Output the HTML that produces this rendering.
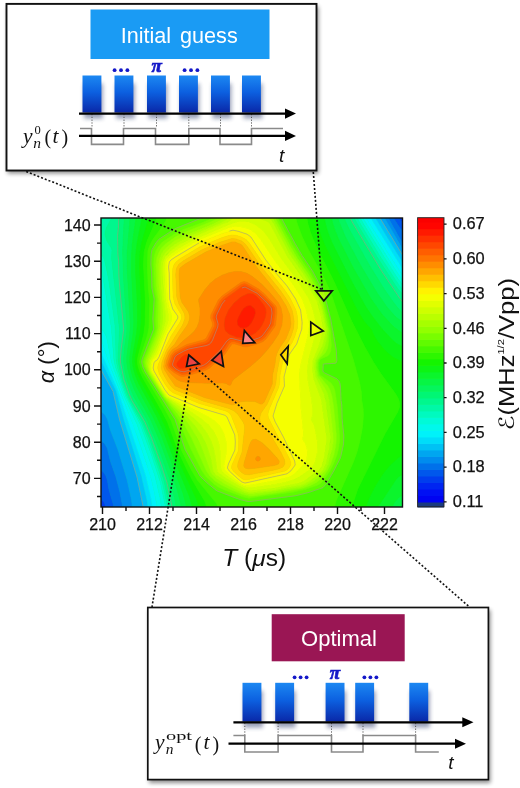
<!DOCTYPE html>
<html><head><meta charset="utf-8"><title>Figure</title>
<style>
html,body{margin:0;padding:0;background:#fff;}
body{width:520px;height:788px;overflow:hidden;position:relative;}
svg{position:absolute;left:0;top:0;display:block;}
text{font-family:"Liberation Sans",sans-serif;fill:#111;}
.ser,.ser text{font-family:"Liberation Serif","DejaVu Serif",serif;}
.it{font-style:italic;}
.tk{font-size:16px;stroke:#111;stroke-width:0.25px;}
.dot{fill:none;stroke:#111;stroke-width:1.6;stroke-dasharray:2 2;}
.ax{stroke:#000;stroke-width:2.2;fill:none;}
.wv{stroke:#8a8a8a;stroke-width:1.6;fill:none;}
.vd{stroke:#555;stroke-width:1;stroke-dasharray:1.2 1.6;fill:none;}
.tri{fill:none;stroke:#111;stroke-width:1.7;stroke-linejoin:miter;}
</style></head><body>
<svg width="520" height="788" viewBox="0 0 520 788">
<defs>
<linearGradient id="bar" x1="0" y1="0" x2="0" y2="1">
<stop offset="0" stop-color="#1c88f2"/><stop offset="0.45" stop-color="#0c60e0"/><stop offset="1" stop-color="#0a28a8"/>
</linearGradient>
<filter id="sh" x="-10%" y="-20%" width="120%" height="150%"><feGaussianBlur stdDeviation="2.2"/></filter>
<filter id="sh2" x="-50%" y="-30%" width="200%" height="170%"><feGaussianBlur stdDeviation="2"/></filter>
<clipPath id="pc"><rect x="101" y="218" width="301.5" height="289"/></clipPath>
</defs>

<!-- ================= heat map ================= -->
<g clip-path="url(#pc)">
<rect x="95" y="212" width="315" height="300" fill="#40f000"/>
<path fill="#0010f4" stroke="#0010f4" stroke-width="0.6" fill-rule="evenodd" d="M408.4,210.0 411.0,210.0 411.0,212.6 409.0,211.4Z"/>
<path fill="#0025f1" stroke="#0025f1" stroke-width="0.6" fill-rule="evenodd" d="M403.9,210.0 408.4,210.0 409.0,211.4 411.0,212.6 411.0,217.1 407.0,216.4 405.0,215.3ZM100.2,506.0 101.0,508.0 99.4,511.0 99.0,515.0 92.3,515.0 92.0,506.8 95.0,506.7 99.0,505.6Z"/>
<path fill="#003dee" stroke="#003dee" stroke-width="0.6" fill-rule="evenodd" d="M397.8,210.0 403.9,210.0 405.0,215.3 407.0,216.4 411.0,217.1 411.0,224.1 404.0,222.9 400.0,220.6 398.3,217.0ZM99.0,477.8 100.0,477.8 101.1,479.0 101.0,480.0 100.0,480.9 98.8,481.0 97.7,480.0 97.7,479.0ZM92.0,493.3 95.0,494.1 98.0,495.9 104.0,501.8 106.2,507.0 106.7,515.0 99.0,515.0 99.4,511.0 101.0,508.0 101.0,507.0 100.0,505.8 92.0,506.8Z"/>
<path fill="#0057ec" stroke="#0057ec" stroke-width="0.6" fill-rule="evenodd" d="M390.8,210.0 397.8,210.0 398.3,217.0 400.0,220.6 404.0,222.9 411.0,224.1 411.0,235.3 406.0,233.7 403.0,231.5 400.0,228.3 393.4,218.0 391.7,214.0ZM97.2,450.0 98.0,448.9 100.0,448.4 101.0,449.0 101.4,451.0 100.0,452.5 99.0,452.7 97.5,452.0ZM92.0,464.9 96.0,466.2 100.0,468.9 104.0,472.7 106.1,476.0 107.4,480.0 109.1,490.0 113.2,504.0 114.4,515.0 106.7,515.0 106.2,507.0 104.0,501.8 98.0,495.9 95.0,494.1 92.0,493.3ZM99.0,477.8 97.7,479.0 97.7,480.0 98.8,481.0 100.0,480.9 101.0,480.0 101.1,479.0 100.0,477.8Z"/>
<path fill="#0071ea" stroke="#0071ea" stroke-width="0.6" fill-rule="evenodd" d="M384.7,210.0 390.8,210.0 391.7,214.0 393.4,218.0 400.0,228.3 403.0,231.5 406.0,233.7 411.0,235.3 411.0,255.5 409.0,254.0 406.0,249.5 386.5,215.0ZM92.0,436.8 96.0,437.7 101.0,440.4 104.9,444.0 107.3,448.0 110.4,461.0 116.0,477.0 119.9,492.0 122.4,505.0 123.2,515.0 114.4,515.0 113.2,504.0 109.1,490.0 107.4,480.0 106.1,476.0 104.0,472.7 100.0,468.9 96.0,466.2 92.0,464.9ZM99.0,448.4 97.9,449.0 97.1,451.0 97.5,452.0 99.0,452.7 101.0,451.7 101.5,450.0 101.0,449.0Z"/>
<path fill="#008cee" stroke="#008cee" stroke-width="0.6" fill-rule="evenodd" d="M381.3,210.0 384.7,210.0 386.5,215.0 406.0,249.5 409.0,254.0 411.0,255.5 411.0,258.5 408.0,256.9 403.7,251.0 383.3,216.0ZM92.0,409.1 97.0,409.9 102.0,412.1 105.2,415.0 107.4,419.0 110.4,430.0 118.1,450.0 127.2,480.0 131.6,500.0 133.2,515.0 123.2,515.0 122.4,505.0 119.9,492.0 116.0,477.0 110.4,461.0 107.3,448.0 104.9,444.0 101.0,440.4 96.0,437.7 92.0,436.8Z"/>
<path fill="#00a6f0" stroke="#00a6f0" stroke-width="0.6" fill-rule="evenodd" d="M376.2,210.0 381.3,210.0 383.3,216.0 403.7,251.0 408.0,256.9 411.0,258.5 411.0,267.1 407.0,262.3 378.1,215.0ZM92.0,356.9 100.0,368.1 113.0,391.4 119.7,420.0 137.0,477.0 144.9,515.0 133.2,515.0 131.6,500.0 127.2,480.0 118.1,450.0 110.4,430.0 107.4,419.0 105.2,415.0 102.0,412.1 97.0,409.9 92.0,409.1Z"/>
<path fill="#00c2f4" stroke="#00c2f4" stroke-width="0.6" fill-rule="evenodd" d="M372.2,210.0 376.2,210.0 378.1,215.0 407.0,262.3 411.0,267.1 411.0,272.7 408.2,271.0 404.6,266.0 375.2,218.0 373.0,213.5ZM92.0,349.6 94.0,350.3 96.0,351.8 98.9,356.0 116.3,391.0 123.8,419.0 141.6,476.0 147.0,500.0 149.4,515.0 144.9,515.0 137.0,477.0 119.7,420.0 113.0,391.4 100.0,368.1 92.0,356.9Z"/>
<path fill="#00ddf9" stroke="#00ddf9" stroke-width="0.6" fill-rule="evenodd" d="M367.8,210.0 372.2,210.0 373.0,213.5 375.2,218.0 404.6,266.0 408.2,271.0 411.0,272.7 411.0,276.5 409.0,275.9 406.0,273.4 400.7,266.0 373.0,222.1 369.1,215.0ZM92.0,344.9 95.0,345.6 97.0,346.8 101.0,352.0 117.8,390.0 145.7,475.0 151.3,499.0 153.3,515.0 149.4,515.0 147.0,500.0 141.6,476.0 123.8,419.0 116.3,391.0 98.9,356.0 96.0,351.8 94.0,350.3 92.0,349.6Z"/>
<path fill="#00f2fa" stroke="#00f2fa" stroke-width="0.6" fill-rule="evenodd" d="M362.2,210.0 367.8,210.0 369.1,215.0 373.0,222.1 400.7,266.0 406.0,273.4 409.0,275.9 411.0,276.5 411.0,286.3 409.3,285.0 406.0,280.7 388.0,253.0 365.0,216.3ZM92.0,336.8 99.0,337.4 101.0,338.5 102.0,340.0 103.1,345.0 110.0,366.0 133.7,426.0 148.3,469.0 151.8,481.0 154.5,493.0 156.9,506.0 157.7,515.0 153.3,515.0 151.3,499.0 145.7,475.0 117.8,390.0 101.0,352.0 97.0,346.8 95.0,345.6 92.0,344.9Z"/>
<path fill="#00f8eb" stroke="#00f8eb" stroke-width="0.6" fill-rule="evenodd" d="M359.9,210.0 362.2,210.0 365.0,216.3 388.0,253.0 406.0,280.7 409.3,285.0 411.0,286.3 411.0,288.7 408.0,287.3 405.0,284.0 394.2,268.0 365.9,223.0 361.4,215.0ZM92.0,324.4 97.0,325.7 101.0,328.3 104.0,331.8 106.6,337.0 111.5,362.0 113.8,369.0 124.3,397.0 136.9,424.0 155.0,476.0 160.1,498.0 162.6,515.0 157.7,515.0 156.3,502.0 151.8,481.0 146.7,464.0 137.6,437.0 119.4,389.0 110.4,367.0 103.1,345.0 102.0,340.0 101.0,338.5 99.0,337.4 92.0,336.8Z"/>
<path fill="#00fad7" stroke="#00fad7" stroke-width="0.6" fill-rule="evenodd" d="M357.7,210.0 359.9,210.0 361.0,214.0 363.5,219.0 385.0,253.6 403.5,282.0 407.7,287.0 411.0,288.7 411.0,290.9 407.8,290.0 404.1,287.0 396.0,276.0 363.0,223.3 359.0,215.5ZM92.0,260.0 94.9,261.0 97.2,263.0 101.0,270.9 102.9,277.0 111.3,327.0 114.0,361.0 115.8,368.0 125.6,396.0 140.0,423.8 151.0,453.5 160.3,482.0 165.3,506.0 166.5,515.0 162.6,515.0 160.1,498.0 155.0,476.0 136.9,424.0 124.3,397.0 113.8,369.0 111.5,362.0 106.6,337.0 104.0,331.8 101.0,328.3 97.0,325.7 92.0,324.4Z"/>
<path fill="#00fabf" stroke="#00fabf" stroke-width="0.6" fill-rule="evenodd" d="M96.3,210.0 95.0,213.3 92.0,214.7 92.0,210.0ZM355.0,210.0 357.7,210.0 359.2,216.0 363.4,224.0 397.4,278.0 405.0,287.9 408.0,290.1 411.0,290.9 411.0,294.0 408.0,293.4 404.0,290.9 400.0,286.7 395.2,280.0 379.2,255.0 360.4,224.0 356.3,216.0ZM92.0,250.9 96.0,251.6 100.0,253.6 103.0,256.6 104.6,260.0 108.8,280.0 114.9,324.0 115.7,335.0 116.1,360.0 117.7,368.0 121.7,382.0 126.5,395.0 129.2,401.0 141.9,424.0 147.8,439.0 158.0,468.0 163.1,485.0 167.4,506.0 168.6,515.0 166.5,515.0 165.3,506.0 160.3,482.0 151.0,453.5 140.0,423.8 125.6,396.0 120.7,383.0 114.4,363.0 111.3,327.0 103.1,278.0 101.0,270.9 97.2,263.0 94.9,261.0 92.0,260.0Z"/>
<path fill="#00f8a6" stroke="#00f8a6" stroke-width="0.6" fill-rule="evenodd" d="M96.3,210.0 109.9,210.0 111.4,217.0 111.0,219.7 106.4,228.0 105.3,232.0 105.2,235.0 106.9,241.0 111.4,248.0 112.0,250.0 111.7,259.0 119.5,329.0 118.2,361.0 121.0,375.1 123.0,382.1 129.0,397.8 142.7,422.0 149.7,439.0 163.9,480.0 169.5,507.0 170.6,515.0 168.6,515.0 167.4,506.0 161.6,479.0 148.0,439.6 141.0,422.0 129.2,401.0 126.9,396.0 121.7,382.0 117.7,368.0 116.0,359.0 115.1,326.0 110.0,287.9 107.0,270.4 104.6,260.0 102.5,256.0 98.0,252.4 92.0,250.9 92.0,214.7 95.0,213.3ZM351.5,210.0 355.0,210.0 356.0,215.0 358.7,221.0 381.0,257.9 400.3,287.0 406.0,292.4 411.0,294.0 411.0,298.7 407.0,297.6 403.0,294.8 399.0,290.4 393.7,283.0 377.7,258.0 358.4,226.0 353.6,217.0Z"/>
<path fill="#00f78d" stroke="#00f78d" stroke-width="0.6" fill-rule="evenodd" d="M109.9,210.0 118.8,210.0 118.5,227.0 117.6,235.0 117.9,255.0 118.6,261.0 118.9,276.0 120.0,291.0 123.7,329.0 121.3,348.0 120.4,361.0 122.8,375.0 125.0,383.0 131.0,398.6 143.4,419.0 151.6,438.0 166.1,479.0 170.3,498.0 173.2,515.0 170.6,515.0 169.5,507.0 163.6,479.0 149.7,439.0 141.7,420.0 130.0,400.1 123.0,382.0 118.6,364.0 118.1,357.0 119.5,329.0 111.7,259.0 112.0,250.0 111.4,248.0 106.9,241.0 105.2,235.0 105.3,232.0 106.4,228.0 111.5,218.0ZM346.2,210.0 351.5,210.0 353.6,217.0 358.4,226.0 378.3,259.0 397.0,287.8 404.0,295.6 407.0,297.6 411.0,298.7 411.0,311.5 406.0,306.6 400.0,298.7 381.6,271.0 353.4,224.0 347.3,213.0Z"/>
<path fill="#01f674" stroke="#01f674" stroke-width="0.6" fill-rule="evenodd" d="M118.8,210.0 124.6,210.0 122.7,252.0 123.4,276.0 127.0,327.0 126.8,333.0 124.4,349.0 123.6,359.0 123.9,364.0 125.4,373.0 127.8,382.0 133.4,396.0 146.8,419.0 156.9,443.0 170.4,481.0 175.5,502.0 177.2,515.0 173.2,515.0 170.3,498.0 166.1,479.0 151.6,438.0 143.4,419.0 131.0,398.6 125.0,383.0 122.8,375.0 120.4,361.0 121.3,348.0 123.7,329.0 120.0,291.0 118.9,276.0 118.6,261.0 117.9,255.0 117.6,235.0 118.5,227.0ZM341.6,210.0 346.2,210.0 347.3,213.0 353.4,224.0 381.6,271.0 400.0,298.7 406.0,306.6 411.0,311.5 411.0,318.2 406.0,316.2 400.3,311.0 392.3,301.0 382.8,287.0 367.4,262.0 352.1,235.0 344.0,218.4 342.4,214.0ZM411.0,512.5 411.0,515.0 408.5,515.0 409.0,513.8Z"/>
<path fill="#05f55c" stroke="#05f55c" stroke-width="0.6" fill-rule="evenodd" d="M124.6,210.0 130.3,210.0 129.9,221.0 127.2,253.0 127.5,274.0 130.3,325.0 129.9,333.0 126.8,357.0 126.9,363.0 127.7,369.0 130.2,379.0 134.5,390.0 139.0,399.0 150.4,419.0 159.8,441.0 172.4,475.0 177.0,489.0 180.8,504.0 182.0,515.0 177.2,515.0 175.5,502.0 170.4,481.0 156.9,443.0 146.8,419.0 133.4,396.0 127.8,382.0 125.2,372.0 123.9,364.0 123.6,359.0 124.4,349.0 126.8,333.0 127.0,327.0 123.4,276.0 122.7,252.0ZM336.6,210.0 341.6,210.0 343.1,216.0 348.5,228.0 370.0,266.4 385.4,291.0 396.1,306.0 404.4,315.0 408.0,317.4 411.0,318.2 411.0,324.5 407.0,323.9 404.0,322.8 400.0,320.5 396.0,317.3 387.6,308.0 377.7,294.0 361.0,266.2 345.8,238.0 339.0,222.0 337.3,216.0ZM401.0,505.5 403.0,504.7 411.0,504.7 411.0,512.5 409.0,513.8 408.5,515.0 400.6,515.0 399.9,508.0Z"/>
<path fill="#07f544" stroke="#07f544" stroke-width="0.6" fill-rule="evenodd" d="M130.3,210.0 136.2,210.0 135.6,221.0 132.5,243.0 131.6,255.0 131.6,273.0 133.9,322.0 133.2,333.0 129.9,356.0 129.8,362.0 130.5,368.0 132.8,377.0 137.0,387.3 153.7,418.0 161.6,436.0 183.0,493.0 186.2,505.0 187.2,515.0 182.0,515.0 180.8,504.0 177.0,489.0 172.4,475.0 159.8,441.0 150.4,419.0 139.0,399.0 134.5,390.0 130.2,379.0 127.7,369.0 126.9,363.0 126.8,357.0 129.9,333.0 130.3,325.0 127.5,274.0 127.2,253.0 129.9,221.0ZM330.6,210.0 336.6,210.0 337.1,215.0 338.7,221.0 345.3,237.0 360.3,265.0 377.1,293.0 387.0,307.2 395.7,317.0 403.0,322.3 407.0,323.9 411.0,324.5 411.0,334.7 406.0,334.3 403.0,333.4 398.0,330.3 393.0,326.3 382.4,315.0 372.0,300.5 355.0,271.3 338.9,240.0 335.1,231.0 332.5,223.0 331.0,216.0ZM411.0,492.5 411.0,504.7 403.0,504.7 401.0,505.5 399.9,508.0 400.6,515.0 390.8,515.0 392.1,507.0 393.9,503.0 396.1,500.0 399.0,497.2 403.0,494.6 407.0,493.1Z"/>
<path fill="#0bf52c" stroke="#0bf52c" stroke-width="0.6" fill-rule="evenodd" d="M136.2,210.0 142.5,210.0 141.6,221.0 137.2,243.0 135.8,255.0 135.6,271.0 137.4,305.0 137.6,321.0 136.7,333.0 132.7,356.0 132.5,362.0 133.1,367.0 135.2,375.0 139.0,384.0 156.5,416.0 163.4,431.0 173.0,456.4 189.3,496.0 192.2,506.0 193.1,515.0 187.2,515.0 186.2,505.0 183.0,493.0 161.6,436.0 153.7,418.0 137.0,387.3 132.8,377.0 130.5,368.0 129.8,362.0 129.9,356.0 133.2,333.0 133.9,322.0 131.6,273.0 131.6,255.0 132.5,243.0 135.6,221.0ZM323.5,210.0 330.6,210.0 331.0,216.0 332.5,223.0 335.1,231.0 338.9,240.0 354.0,269.5 371.0,299.0 382.0,314.5 393.0,326.3 398.0,330.3 403.0,333.4 406.0,334.3 411.0,334.7 411.0,347.4 405.0,347.0 401.0,346.1 397.0,344.0 393.2,341.0 382.0,329.0 372.0,316.1 366.4,308.0 353.0,284.2 338.3,256.0 331.6,242.0 328.0,233.0 325.6,225.0 324.0,217.0ZM411.0,474.0 411.0,492.5 407.0,493.1 403.0,494.6 399.0,497.2 396.1,500.0 393.9,503.0 392.1,507.0 390.8,515.0 377.8,515.0 377.0,507.0 380.0,503.5 396.2,479.0 399.0,476.2 402.0,474.7Z"/>
<path fill="#0df414" stroke="#0df414" stroke-width="0.6" fill-rule="evenodd" d="M142.5,210.0 149.5,210.0 148.1,221.0 141.8,243.0 140.0,254.0 139.6,268.0 141.4,304.0 141.3,322.0 140.1,334.0 135.4,356.0 135.0,361.0 135.5,366.0 137.5,373.0 141.0,381.1 158.8,413.0 165.2,426.0 177.4,458.0 196.5,499.0 199.0,507.0 199.9,515.0 193.1,515.0 192.2,506.0 189.3,496.0 173.0,456.4 163.4,431.0 156.5,416.0 139.0,384.0 135.2,375.0 133.1,367.0 132.5,362.0 132.7,356.0 136.7,333.0 137.6,321.0 137.4,305.0 135.6,271.0 135.8,255.0 137.2,243.0 141.6,221.0ZM315.5,210.0 323.5,210.0 324.0,217.0 325.6,225.0 328.0,233.0 331.6,242.0 352.0,282.3 365.8,307.0 371.9,316.0 382.0,329.0 393.2,341.0 397.0,344.0 401.0,346.1 405.0,347.0 411.0,347.4 411.0,363.4 405.0,362.7 399.0,360.7 393.0,357.4 387.0,352.7 378.4,343.0 374.0,336.0 371.0,329.1 366.0,324.1 361.0,317.0 352.8,302.0 323.2,242.0 319.7,233.0 317.4,225.0 315.9,217.0ZM411.0,451.5 411.0,474.0 402.0,474.7 399.0,476.2 396.2,479.0 380.0,503.5 377.0,507.0 377.8,515.0 365.3,515.0 366.1,506.0 368.4,499.0 375.0,486.1 383.0,473.5 390.0,465.0 398.0,457.7 405.0,453.1Z"/>
<path fill="#14f400" stroke="#14f400" stroke-width="0.6" fill-rule="evenodd" d="M149.5,210.0 157.7,210.0 157.6,212.0 155.7,221.0 147.0,241.1 144.1,252.0 143.5,265.0 145.5,302.0 145.1,324.0 143.8,334.0 137.9,357.0 137.4,361.0 137.8,365.0 139.5,371.0 142.8,378.0 161.2,410.0 167.5,422.0 178.6,452.0 186.0,467.8 192.0,479.4 204.7,501.0 207.3,508.0 208.3,515.0 199.9,515.0 199.0,507.0 196.5,499.0 177.4,458.0 165.2,426.0 158.8,413.0 141.0,381.1 137.5,373.0 135.5,366.0 135.0,361.0 135.4,356.0 140.1,334.0 141.3,322.0 141.4,304.0 139.6,268.0 140.0,254.0 141.8,243.0 148.3,220.0ZM306.2,210.0 315.5,210.0 316.2,219.0 318.2,228.0 321.2,237.0 325.9,248.0 357.0,310.0 364.4,322.0 371.0,329.1 373.5,335.0 377.0,341.0 385.0,350.7 393.0,357.4 402.0,361.9 411.0,363.4 411.0,451.5 405.0,453.1 398.0,457.7 390.0,465.0 383.0,473.5 375.0,486.1 368.4,499.0 366.1,506.0 365.3,515.0 351.4,515.0 352.0,507.0 353.8,500.0 357.8,489.0 364.0,475.8 385.4,433.0 397.7,412.0 399.5,407.0 399.4,402.0 398.0,398.0 395.7,394.0 381.0,373.8 374.0,362.9 365.0,347.3 352.0,321.8 334.3,282.0 318.0,250.0 313.0,239.0 310.0,231.0 307.7,223.0 306.5,216.0Z"/>
<path fill="#2df600" stroke="#2df600" stroke-width="0.6" fill-rule="evenodd" d="M157.7,210.0 168.8,210.0 167.8,216.0 165.7,221.0 162.7,226.0 153.0,239.1 149.5,246.0 147.9,251.0 147.4,267.0 148.3,288.0 149.8,301.0 149.1,327.0 147.6,335.0 140.0,358.3 139.5,361.0 139.8,364.0 143.0,372.7 163.6,407.0 171.3,421.0 181.8,451.0 191.4,470.0 197.4,480.0 216.2,503.0 219.3,509.0 220.5,515.0 208.3,515.0 207.3,508.0 204.7,501.0 192.0,479.4 186.0,467.8 178.6,452.0 167.5,422.0 161.2,410.0 142.8,378.0 139.5,371.0 137.8,365.0 137.4,361.0 137.9,357.0 143.8,334.0 145.1,324.0 145.5,302.0 143.5,265.0 144.1,252.0 147.0,241.1 155.7,221.0 157.2,215.0ZM294.9,210.0 306.2,210.0 306.5,216.0 307.7,223.0 310.0,231.0 313.0,239.0 318.0,250.0 334.3,282.0 352.0,321.8 365.0,347.3 374.0,362.9 381.0,373.8 395.7,394.0 398.0,398.0 399.4,402.0 399.5,407.0 397.7,412.0 385.0,433.8 357.8,489.0 352.4,505.0 351.4,515.0 333.4,515.0 334.4,507.0 336.4,500.0 353.8,461.0 357.6,450.0 360.3,439.0 362.6,426.0 363.4,414.0 363.0,407.0 361.7,400.0 361.5,394.0 360.6,387.0 352.4,357.0 331.5,295.0 323.6,277.0 308.0,249.0 301.8,236.0 296.7,222.0 295.4,216.0Z"/>
<path fill="#46f800" stroke="#46f800" stroke-width="0.6" fill-rule="evenodd" d="M168.8,210.0 217.0,210.0 201.6,218.0 175.0,228.7 159.0,239.2 156.0,242.8 152.0,249.6 151.1,254.0 150.8,265.0 151.6,272.0 151.9,288.0 154.2,299.0 152.8,319.0 153.7,329.0 142.2,359.0 141.7,362.0 142.2,365.0 143.7,369.0 146.5,374.0 175.0,419.4 185.0,449.2 200.0,476.2 208.3,484.0 217.0,490.9 240.0,499.6 249.0,501.7 296.0,495.7 309.0,492.4 323.0,487.6 326.2,484.0 334.3,470.0 340.4,458.0 343.6,444.0 343.8,435.0 342.1,419.0 341.8,405.0 341.0,400.4 340.5,387.0 339.9,383.0 339.0,380.9 337.0,378.9 324.8,373.0 323.4,372.0 322.9,371.0 323.3,364.0 335.0,363.3 336.0,362.9 336.9,361.0 336.3,350.0 330.7,319.0 326.6,303.0 323.5,293.0 320.5,286.0 312.5,271.0 302.0,255.4 295.0,243.3 284.0,223.0 278.6,210.0 294.9,210.0 295.4,216.0 296.7,222.0 301.8,236.0 308.0,249.0 324.1,278.0 328.7,288.0 332.2,297.0 353.4,360.0 359.2,381.0 361.3,392.0 361.7,400.0 363.2,409.0 363.4,416.0 362.5,427.0 359.9,441.0 357.0,452.0 353.4,462.0 336.4,500.0 334.2,508.0 333.4,515.0 220.5,515.0 219.3,509.0 216.2,503.0 197.4,480.0 191.4,470.0 181.8,451.0 171.3,421.0 163.6,407.0 143.0,372.7 140.9,368.0 139.5,362.0 140.4,357.0 147.3,336.0 149.0,328.0 149.8,301.0 148.3,288.0 147.4,267.0 147.9,251.0 149.5,246.0 153.0,239.1 162.7,226.0 165.7,221.0 168.1,215.0Z"/>
<path fill="#60fb00" stroke="#60fb00" stroke-width="0.6" fill-rule="evenodd" d="M176.0,228.1 201.6,218.0 217.0,210.0 226.5,210.0 226.0,211.1 224.0,212.8 218.0,215.8 203.8,222.0 183.0,229.7 176.0,233.0 162.4,242.0 159.0,245.7 156.3,250.0 154.3,256.0 153.6,264.0 154.4,286.0 156.5,299.0 155.6,320.0 156.1,329.0 154.9,333.0 144.1,360.0 143.9,364.0 145.9,370.0 163.2,398.0 177.5,418.0 181.8,427.0 190.9,449.0 202.0,471.0 206.3,477.0 212.8,483.0 218.0,486.8 223.0,489.3 241.0,496.2 248.0,498.1 254.0,497.8 299.0,491.1 308.0,488.7 317.9,485.0 322.0,482.2 325.0,478.5 331.0,469.0 336.7,456.0 339.3,444.0 339.5,435.0 337.2,406.0 334.5,389.0 333.2,386.0 331.0,383.1 321.0,375.9 319.6,374.0 319.0,372.0 318.9,364.0 319.8,360.0 321.0,358.9 326.1,357.0 328.7,355.0 330.4,352.0 331.3,348.0 331.3,341.0 330.3,330.0 324.6,304.0 321.7,295.0 318.6,288.0 310.2,273.0 299.5,257.0 293.0,246.1 277.0,216.4 275.0,210.0 278.6,210.0 280.0,214.7 283.0,221.0 295.0,243.3 302.0,255.4 312.5,271.0 322.4,290.0 326.6,303.0 329.7,315.0 335.5,345.0 336.9,357.0 336.6,362.0 336.0,362.9 334.0,363.5 323.3,364.0 322.9,371.0 323.4,372.0 324.8,373.0 337.0,378.9 339.0,380.9 339.9,383.0 340.5,387.0 341.0,400.4 341.8,405.0 342.1,419.0 343.8,435.0 343.7,443.0 341.6,454.0 340.4,458.0 334.3,470.0 326.2,484.0 323.0,487.6 305.0,493.6 295.0,495.9 260.0,500.5 247.0,501.6 234.0,497.5 216.0,490.4 201.0,477.4 195.7,469.0 185.0,449.2 175.0,419.4 145.2,372.0 142.5,366.0 141.7,362.0 143.3,356.0 153.7,329.0 152.8,319.0 154.2,299.0 151.8,287.0 151.6,272.0 150.8,264.0 151.5,251.0 156.0,242.8 159.0,239.2Z"/>
<path fill="#79fd00" stroke="#79fd00" stroke-width="0.6" fill-rule="evenodd" d="M226.5,210.0 228.3,210.0 227.5,212.0 225.0,214.6 222.0,216.5 209.0,222.5 184.0,232.5 174.0,237.7 164.2,245.0 159.0,252.0 156.8,258.0 156.0,265.0 156.5,285.0 158.3,300.0 157.9,328.0 156.0,334.9 146.0,359.0 145.4,363.0 146.1,367.0 149.2,374.0 163.6,397.0 177.7,414.0 184.2,424.0 191.5,438.0 207.7,473.0 212.6,479.0 220.0,484.4 227.0,488.0 242.0,494.3 248.0,495.9 253.0,496.0 278.0,492.7 304.0,487.9 311.0,485.3 317.0,482.2 320.0,479.9 324.0,475.7 328.5,469.0 332.6,459.0 335.1,450.0 336.3,440.0 333.8,408.0 331.5,394.0 330.1,390.0 328.0,386.0 319.0,376.0 318.0,373.7 317.4,364.0 318.3,360.0 320.0,357.7 325.3,353.0 327.7,348.0 328.9,338.0 328.3,327.0 323.1,304.0 319.0,292.9 308.4,274.0 292.6,250.0 274.8,217.0 273.0,213.0 272.4,210.0 275.0,210.0 277.0,216.4 292.0,244.4 299.5,257.0 310.2,273.0 319.6,290.0 324.6,304.0 328.4,320.0 330.4,331.0 331.4,345.0 330.8,351.0 329.5,354.0 327.7,356.0 321.0,358.9 319.8,360.0 318.9,363.0 319.0,371.0 320.2,375.0 331.0,383.0 333.2,386.0 334.8,390.0 337.2,406.0 339.5,435.0 339.5,441.0 338.8,447.0 337.0,455.0 333.4,464.0 329.9,471.0 324.0,479.8 321.1,483.0 318.0,485.0 305.0,489.6 293.0,492.1 249.0,498.2 242.0,496.6 224.0,489.7 218.3,487.0 214.0,484.0 206.3,477.0 202.0,471.0 190.9,449.0 178.0,419.0 159.4,392.0 147.5,373.0 144.4,366.0 143.8,362.0 144.3,359.0 154.9,333.0 156.1,329.0 155.6,320.0 156.5,299.0 154.4,286.0 153.6,264.0 154.3,256.0 156.3,250.0 159.0,245.7 162.4,242.0 176.0,233.0 183.0,229.7 203.8,222.0 218.0,215.8 224.0,212.8 226.0,211.1Z"/>
<path fill="#92ff00" stroke="#92ff00" stroke-width="0.6" fill-rule="evenodd" d="M228.3,210.0 230.4,210.0 229.9,212.0 228.0,214.9 225.0,217.5 216.0,222.1 189.6,233.0 179.0,238.2 167.7,246.0 163.8,250.0 161.0,254.3 159.0,260.0 158.2,267.0 158.6,284.0 160.0,298.0 160.6,312.0 159.9,326.0 157.4,336.0 147.6,359.0 146.9,363.0 147.5,368.0 150.7,375.0 164.5,397.0 182.4,416.0 188.5,424.0 193.8,432.0 201.9,448.0 209.9,470.0 211.8,474.0 215.0,477.5 222.0,482.3 244.0,492.9 249.0,494.2 254.0,494.1 276.0,491.4 295.0,488.1 304.0,486.1 308.7,484.0 315.5,480.0 320.0,476.4 324.0,472.2 327.5,466.0 330.9,455.0 333.0,444.0 333.2,435.0 330.3,408.0 328.4,397.0 325.5,389.0 317.3,376.0 316.6,373.0 316.0,365.0 316.3,362.0 317.3,359.0 322.5,352.0 325.1,346.0 327.2,334.0 327.0,327.0 322.0,305.0 319.0,296.6 307.0,275.6 291.1,252.0 276.0,223.6 270.2,214.0 269.1,210.0 272.4,210.0 274.3,216.0 291.0,247.2 297.5,258.0 308.4,274.0 318.6,292.0 323.4,305.0 328.8,330.0 328.7,341.0 327.7,348.0 325.3,353.0 320.0,357.7 318.3,360.0 317.5,363.0 317.4,368.0 318.5,375.0 328.0,386.0 330.1,390.0 331.7,395.0 333.7,407.0 336.2,434.0 336.3,440.0 335.6,447.0 333.9,455.0 330.7,464.0 327.9,470.0 324.6,475.0 321.0,479.0 317.0,482.2 310.0,485.7 303.0,488.2 278.0,492.7 254.0,495.9 249.0,496.1 242.0,494.3 229.3,489.0 221.0,485.0 215.0,481.0 209.8,476.0 206.5,471.0 191.5,438.0 182.4,421.0 177.7,414.0 163.6,397.0 149.2,374.0 146.1,367.0 145.4,363.0 146.0,359.0 156.0,334.9 157.9,328.0 158.3,300.0 156.5,285.0 156.0,265.0 156.8,258.0 159.0,252.0 161.5,248.0 165.0,244.3 175.0,237.1 185.0,232.0 209.0,222.5 221.0,217.0 226.0,213.8 227.5,212.0Z"/>
<path fill="#a6ff00" stroke="#a6ff00" stroke-width="0.6" fill-rule="evenodd" d="M230.4,210.0 233.6,210.0 233.5,211.0 230.7,216.0 227.4,219.0 219.0,223.5 193.0,234.4 181.0,240.4 174.0,244.8 169.0,248.7 165.7,252.0 163.0,256.0 160.9,262.0 160.3,269.0 160.8,286.0 163.0,313.0 162.7,322.0 161.4,329.0 158.8,337.0 154.4,348.0 148.7,360.0 148.1,364.0 148.8,369.0 151.6,375.0 165.3,397.0 185.3,415.0 192.7,423.0 199.0,431.0 203.8,439.0 207.7,448.0 210.7,458.0 214.0,473.0 217.0,475.8 227.0,482.0 240.0,489.0 248.0,492.2 253.0,492.4 274.0,490.2 295.0,486.3 304.5,484.0 314.1,478.0 323.2,470.0 325.6,465.0 328.3,454.0 330.3,442.0 330.4,436.0 326.9,408.0 325.1,398.0 323.0,391.6 315.8,377.0 314.4,365.0 315.3,360.0 321.9,347.0 325.0,336.0 325.9,329.0 320.0,302.8 316.0,294.3 304.2,275.0 289.5,254.0 273.0,222.6 270.0,218.4 265.8,215.0 264.3,213.0 263.8,210.0 269.1,210.0 270.2,214.0 276.0,223.6 291.0,251.8 306.6,275.0 318.0,294.6 320.5,300.0 322.0,305.0 327.3,329.0 326.9,337.0 325.1,346.0 322.5,352.0 316.9,360.0 316.1,363.0 316.0,367.0 317.3,376.0 325.5,389.0 327.6,394.0 328.9,399.0 330.4,409.0 333.2,435.0 333.3,441.0 332.4,448.0 328.3,464.0 326.1,469.0 324.0,472.2 319.0,477.3 314.0,481.0 306.7,485.0 301.0,486.9 275.0,491.6 254.0,494.1 249.0,494.2 244.3,493.0 237.2,490.0 224.0,483.4 216.0,478.3 212.5,475.0 210.7,472.0 201.9,448.0 197.7,439.0 193.1,431.0 187.8,423.0 181.6,415.0 164.5,397.0 150.7,375.0 147.5,368.0 146.9,363.0 147.6,359.0 157.4,336.0 159.9,326.0 160.6,312.0 160.0,298.0 158.6,284.0 158.2,267.0 159.0,260.0 161.2,254.0 163.8,250.0 166.6,247.0 175.0,240.6 187.0,234.2 212.0,223.9 223.0,218.7 228.0,214.9 229.9,212.0Z"/>
<path fill="#baff00" stroke="#baff00" stroke-width="0.6" fill-rule="evenodd" d="M233.6,210.0 242.4,210.0 239.1,214.0 232.9,219.0 223.0,224.5 196.0,235.8 183.8,242.0 171.0,250.5 167.0,254.3 164.4,258.0 162.8,263.0 162.4,270.0 163.1,290.0 165.6,314.0 165.5,320.0 163.7,328.0 158.3,343.0 154.5,352.0 150.0,360.0 149.2,365.0 149.7,369.0 152.0,374.3 166.0,396.8 182.5,409.0 193.4,418.0 201.6,426.0 207.0,433.0 210.8,440.0 213.7,448.0 215.3,456.0 217.5,472.0 225.0,477.5 240.0,486.6 247.5,490.0 252.0,490.4 274.0,488.2 299.1,483.0 304.3,481.0 312.6,475.0 321.0,467.9 322.7,464.0 324.0,458.2 326.7,441.0 326.8,438.0 321.0,398.7 313.6,379.0 312.3,366.0 312.7,361.0 318.7,346.0 323.3,331.0 323.0,326.3 320.9,316.0 318.0,304.0 314.0,295.7 302.0,276.8 286.9,256.0 270.0,224.1 268.0,222.0 262.0,219.6 255.0,214.8 249.0,213.4 246.3,211.0 245.8,210.0 263.8,210.0 264.8,214.0 270.0,218.4 273.3,223.0 289.5,254.0 304.2,275.0 318.0,298.1 321.0,306.6 325.9,329.0 325.0,336.0 322.3,346.0 315.3,360.0 314.4,366.0 315.8,377.0 323.6,393.0 325.9,402.0 330.5,437.0 329.4,448.0 325.9,464.0 323.0,470.3 316.7,476.0 309.6,481.0 304.5,484.0 300.0,485.3 274.0,490.2 253.0,492.4 249.0,492.4 245.0,491.2 239.0,488.5 227.0,482.0 216.0,475.1 213.6,472.0 211.0,459.0 207.7,448.0 204.8,441.0 200.9,434.0 195.2,426.0 187.3,417.0 165.3,397.0 151.0,374.0 148.5,368.0 148.1,364.0 148.7,360.0 154.4,348.0 158.8,337.0 161.4,329.0 162.7,322.0 163.0,313.0 160.8,286.0 160.3,269.0 160.9,262.0 163.0,256.0 165.7,252.0 169.0,248.7 174.0,244.8 181.0,240.4 193.0,234.4 219.0,223.5 227.0,219.3 230.7,216.0 233.1,212.0Z"/>
<path fill="#ceff00" stroke="#ceff00" stroke-width="0.6" fill-rule="evenodd" d="M242.4,210.0 245.8,210.0 248.2,213.0 255.0,214.8 262.0,219.6 268.0,222.0 270.0,224.1 286.9,256.0 305.4,282.0 314.0,295.7 317.2,302.0 320.9,316.0 323.4,330.0 319.0,345.2 312.7,361.0 312.3,368.0 313.6,379.0 321.0,398.7 326.8,439.0 324.0,458.2 321.5,467.0 318.9,470.0 304.3,481.0 299.1,483.0 275.0,488.0 251.0,490.5 247.0,489.8 240.0,486.6 225.0,477.5 217.5,472.0 215.3,456.0 213.7,448.0 210.8,440.0 207.0,433.0 201.6,426.0 193.4,418.0 182.5,409.0 166.0,396.8 151.3,373.0 150.0,370.0 149.2,366.0 150.0,360.0 154.5,352.0 158.0,344.0 163.4,329.0 165.4,321.0 165.6,315.0 163.5,295.0 162.4,269.0 163.0,262.0 165.0,257.0 170.4,251.0 180.0,244.2 195.0,236.3 228.0,222.0 236.9,216.0 240.1,213.0ZM242.0,221.2 238.0,221.8 232.0,223.6 195.0,239.0 184.1,245.0 175.0,250.7 169.0,255.5 166.0,259.0 164.9,262.0 164.3,267.0 165.1,289.0 165.8,301.0 168.4,315.0 168.4,320.0 166.7,326.0 157.0,351.0 154.9,355.0 151.3,360.0 150.3,366.0 150.9,370.0 152.2,373.0 163.0,391.0 167.0,396.8 185.4,408.0 201.6,419.0 208.6,425.0 213.5,431.0 217.2,438.0 219.4,445.0 220.3,452.0 220.7,467.0 221.5,470.0 222.7,472.0 227.0,475.7 241.0,485.3 246.0,487.1 251.0,487.6 274.0,484.6 285.0,482.3 292.5,480.0 299.0,476.9 310.0,469.4 312.4,467.0 314.7,463.0 317.0,453.0 317.1,441.0 314.6,427.0 313.1,423.0 311.0,420.0 312.4,415.0 312.4,408.0 311.3,399.0 307.9,381.0 307.2,371.0 308.4,360.0 314.8,336.0 316.0,326.0 315.3,320.0 312.9,310.0 310.6,303.0 307.8,297.0 298.4,282.0 280.9,258.0 267.4,236.0 262.0,229.7 255.7,225.0 249.0,222.1Z"/>
<path fill="#e1ff00" stroke="#e1ff00" stroke-width="0.6" fill-rule="evenodd" d="M242.0,221.2 249.0,222.1 255.7,225.0 262.0,229.7 267.4,236.0 280.9,258.0 298.4,282.0 307.8,297.0 310.6,303.0 312.9,310.0 315.3,320.0 316.0,326.0 314.8,336.0 308.4,360.0 307.2,371.0 307.9,381.0 311.3,399.0 312.4,408.0 312.4,415.0 311.0,420.0 313.1,423.0 314.6,427.0 317.1,441.0 317.0,453.0 314.7,463.0 312.4,467.0 310.0,469.4 299.0,476.9 292.5,480.0 285.0,482.3 274.0,484.6 251.0,487.6 246.0,487.1 241.0,485.3 227.0,475.7 222.7,472.0 221.5,470.0 220.7,467.0 220.3,452.0 219.4,445.0 217.2,438.0 213.5,431.0 208.6,425.0 201.6,419.0 185.4,408.0 167.0,396.8 163.0,391.0 152.2,373.0 150.9,370.0 150.3,366.0 151.3,360.0 154.9,355.0 157.0,351.0 166.7,326.0 168.4,320.0 168.4,315.0 165.8,301.0 165.1,289.0 164.3,267.0 164.9,262.0 166.0,259.0 169.0,255.5 175.0,250.7 184.1,245.0 195.0,239.0 232.0,223.6 238.0,221.8ZM235.0,226.5 229.0,227.8 198.0,240.3 178.0,251.9 170.0,257.4 167.5,260.0 166.7,262.0 166.2,267.0 167.3,298.0 169.0,306.9 171.7,315.0 172.0,319.0 170.4,324.0 165.0,334.9 158.3,353.0 156.0,357.0 153.0,359.6 152.3,361.0 151.4,367.0 151.9,370.0 153.0,372.6 164.0,391.0 167.5,396.0 208.7,417.0 214.8,421.0 219.0,425.1 221.8,429.0 224.0,433.4 226.6,443.0 226.6,452.0 224.0,466.0 224.7,470.0 228.7,474.0 241.6,484.0 244.0,485.0 248.0,485.2 275.0,480.5 289.0,477.0 293.0,474.7 297.5,471.0 304.7,463.0 306.4,460.0 307.3,454.0 306.9,449.0 305.5,444.0 302.3,439.0 303.1,436.0 303.2,432.0 300.9,409.0 299.1,374.0 300.3,366.0 307.6,336.0 309.3,325.0 305.8,309.0 301.6,298.0 293.0,284.6 275.7,262.0 259.5,238.0 255.0,232.9 250.0,229.5 243.0,227.2Z"/>
<path fill="#f5ff00" stroke="#f5ff00" stroke-width="0.6" fill-rule="evenodd" d="M235.0,226.5 243.0,227.2 250.0,229.5 255.0,232.9 259.5,238.0 275.7,262.0 293.0,284.6 301.6,298.0 305.8,309.0 309.3,325.0 307.6,336.0 300.3,366.0 299.1,374.0 300.9,409.0 303.2,432.0 303.1,436.0 302.3,439.0 305.5,444.0 306.9,449.0 307.3,454.0 306.4,460.0 304.7,463.0 297.5,471.0 293.0,474.7 289.0,477.0 275.0,480.5 248.0,485.2 244.0,485.0 241.6,484.0 228.7,474.0 224.7,470.0 224.0,466.0 226.6,452.0 226.6,443.0 224.0,433.4 221.8,429.0 219.0,425.1 214.8,421.0 208.7,417.0 167.5,396.0 164.0,391.0 153.0,372.6 151.9,370.0 151.4,367.0 152.3,361.0 153.0,359.6 156.0,357.0 158.3,353.0 165.0,334.9 170.4,324.0 172.0,319.0 171.7,315.0 169.0,306.9 167.3,298.0 166.2,267.0 166.7,262.0 167.5,260.0 170.0,257.4 178.0,251.9 198.0,240.3 229.0,227.8ZM233.0,230.2 221.3,234.0 199.0,242.9 175.4,257.0 171.0,260.0 169.3,262.0 168.6,267.0 169.2,273.0 169.7,299.0 172.7,309.0 177.7,316.0 177.9,318.0 168.0,334.0 159.0,357.0 157.2,360.0 155.0,361.3 154.0,362.8 153.1,368.0 154.0,371.1 165.0,390.1 168.9,395.0 199.0,407.6 225.0,415.3 227.0,417.0 234.8,435.0 235.3,442.0 234.9,450.0 228.4,464.0 227.4,468.0 229.3,471.0 238.0,479.0 242.0,482.1 245.0,483.1 287.0,473.8 291.0,470.7 295.2,465.0 294.7,461.0 283.4,437.0 275.0,421.4 273.0,416.0 277.0,403.2 284.5,386.0 284.0,377.0 286.3,368.0 287.3,359.0 290.0,353.5 296.7,344.0 301.8,329.0 302.2,323.0 300.6,310.0 295.6,299.0 287.1,286.0 276.0,273.1 266.0,260.3 250.9,237.0 249.0,235.2 246.5,234.0 238.0,231.2Z"/>
<path fill="#fff200" stroke="#fff200" stroke-width="0.6" fill-rule="evenodd" d="M233.0,230.2 238.0,231.2 246.5,234.0 249.0,235.2 250.9,237.0 266.0,260.3 276.0,273.1 287.1,286.0 295.6,299.0 300.6,310.0 302.2,323.0 301.8,329.0 296.7,344.0 290.0,353.5 287.3,359.0 286.3,368.0 284.0,377.0 284.5,386.0 277.0,403.2 273.0,416.0 275.0,421.4 283.4,437.0 294.7,461.0 295.2,465.0 291.0,470.7 287.0,473.8 245.0,483.1 242.0,482.1 238.0,479.0 229.3,471.0 227.4,468.0 228.4,464.0 234.9,450.0 235.3,442.0 234.8,435.0 227.0,417.0 225.0,415.3 199.0,407.6 168.9,395.0 165.0,390.1 154.0,371.1 153.1,368.0 154.0,362.8 155.0,361.3 157.2,360.0 159.0,357.0 168.0,334.0 177.9,318.0 177.7,316.0 172.7,309.0 169.7,299.0 169.2,273.0 168.6,267.0 169.3,262.0 171.0,260.0 175.4,257.0 199.0,242.9 221.3,234.0ZM232.0,235.0 228.0,235.8 221.0,238.1 200.0,246.7 180.0,258.7 176.0,262.0 174.0,264.8 172.9,268.0 172.5,273.0 173.1,297.0 175.0,304.0 181.0,314.3 181.7,318.0 180.0,322.3 171.1,336.0 166.0,346.0 158.1,365.0 157.7,368.0 159.3,374.0 165.0,384.1 169.0,389.6 173.0,392.8 200.0,403.7 225.0,410.7 228.0,412.1 230.2,414.0 231.4,416.0 237.9,433.0 238.8,439.0 238.3,451.0 232.0,464.7 231.5,468.0 233.3,471.0 239.0,476.3 243.0,479.3 246.0,479.9 285.0,471.1 288.2,469.0 290.7,465.0 290.6,462.0 289.5,459.0 269.9,421.0 268.2,417.0 267.9,414.0 269.3,409.0 278.8,387.0 279.6,383.0 280.0,375.0 283.6,357.0 286.0,352.0 292.0,342.7 294.6,337.0 297.4,328.0 297.7,321.0 297.1,315.0 295.9,310.0 290.0,298.0 283.2,288.0 264.0,264.5 249.3,243.0 246.0,239.5 242.0,237.2 237.0,235.5Z"/>
<path fill="#ffd900" stroke="#ffd900" stroke-width="0.6" fill-rule="evenodd" d="M232.0,235.0 237.0,235.5 242.0,237.2 246.0,239.5 249.3,243.0 264.0,264.5 283.2,288.0 290.0,298.0 295.9,310.0 297.1,315.0 297.7,321.0 297.4,328.0 294.6,337.0 292.0,342.7 286.0,352.0 283.6,357.0 280.0,375.0 279.6,383.0 278.8,387.0 269.3,409.0 267.9,414.0 268.2,417.0 269.9,421.0 289.5,459.0 290.6,462.0 290.7,465.0 288.2,469.0 285.0,471.1 246.0,479.9 243.0,479.3 239.0,476.3 233.3,471.0 231.5,468.0 232.0,464.7 238.3,451.0 238.8,439.0 237.9,433.0 231.4,416.0 230.2,414.0 228.0,412.1 225.0,410.7 200.0,403.7 173.0,392.8 169.0,389.6 165.0,384.1 159.3,374.0 157.7,368.0 158.1,365.0 166.0,346.0 171.1,336.0 180.0,322.3 181.7,318.0 181.0,314.3 175.0,304.0 173.1,297.0 172.5,273.0 172.9,268.0 174.0,264.8 176.0,262.0 180.0,258.7 200.0,246.7 221.0,238.1 228.0,235.8ZM232.0,238.6 220.0,242.2 202.0,249.8 183.0,261.1 179.0,264.3 177.1,267.0 176.1,270.0 175.8,275.0 176.8,297.0 179.0,304.0 184.1,313.0 184.9,316.0 184.9,319.0 182.6,325.0 166.2,351.0 162.0,362.0 161.2,368.0 162.8,373.0 167.9,382.0 171.7,387.0 175.0,389.7 203.0,400.9 229.0,408.5 234.2,411.0 237.6,414.0 243.1,422.0 244.3,425.0 244.7,428.0 242.1,452.0 238.0,463.0 237.7,467.0 239.1,470.0 242.0,472.8 245.0,474.5 249.0,474.8 272.0,470.5 279.0,468.8 282.9,467.0 284.9,464.0 284.6,460.0 281.0,452.5 272.4,438.0 261.0,423.0 260.1,421.0 259.6,418.0 261.0,413.0 267.3,404.0 274.8,387.0 275.8,383.0 276.7,374.0 280.0,357.0 282.4,351.0 288.7,341.0 291.1,336.0 293.6,328.0 294.1,321.0 292.3,311.0 289.7,305.0 286.2,299.0 280.0,290.0 260.6,266.0 246.9,246.0 244.0,242.7 241.0,240.7 236.0,238.9Z"/>
<path fill="#ffc000" stroke="#ffc000" stroke-width="0.6" fill-rule="evenodd" d="M232.0,238.6 236.0,238.9 241.0,240.7 244.0,242.7 246.9,246.0 260.6,266.0 280.0,290.0 286.2,299.0 289.7,305.0 292.3,311.0 294.1,321.0 293.6,328.0 291.1,336.0 288.7,341.0 282.4,351.0 280.0,357.0 276.7,374.0 275.8,383.0 274.8,387.0 267.3,404.0 261.0,413.0 259.6,418.0 260.1,421.0 261.0,423.0 272.4,438.0 281.0,452.5 284.6,460.0 284.9,464.0 282.9,467.0 279.0,468.8 272.0,470.5 249.0,474.8 245.0,474.5 242.0,472.8 239.1,470.0 237.7,467.0 238.0,463.0 242.1,452.0 244.7,428.0 244.3,425.0 243.1,422.0 237.6,414.0 234.2,411.0 229.0,408.5 203.0,400.9 175.0,389.7 171.7,387.0 167.9,382.0 162.8,373.0 161.2,368.0 162.0,362.0 166.2,351.0 182.6,325.0 184.9,319.0 184.9,316.0 184.1,313.0 179.0,304.0 176.8,297.0 175.8,275.0 176.1,270.0 177.1,267.0 179.0,264.3 183.0,261.1 202.0,249.8 220.0,242.2ZM232.0,241.9 220.3,246.0 205.8,252.0 185.1,264.0 180.0,268.0 179.4,270.0 179.1,275.0 180.2,297.0 182.0,302.5 188.6,312.0 189.6,316.0 189.5,319.0 188.4,323.0 186.7,326.0 178.9,337.0 174.8,344.0 170.8,348.0 168.0,352.0 164.4,361.0 163.7,367.0 164.7,370.0 169.0,377.1 175.3,386.0 205.0,397.8 232.0,404.8 234.0,404.5 240.0,401.9 246.0,401.2 255.0,401.6 260.5,404.0 262.0,404.1 264.3,402.0 272.2,384.0 272.5,375.0 275.0,364.0 275.6,358.0 277.1,353.0 279.5,348.0 286.0,338.7 290.0,328.4 290.8,324.0 289.9,315.0 286.0,305.8 280.0,296.3 255.8,266.0 242.6,246.0 241.0,244.5 235.0,241.9ZM251.3,441.0 249.5,445.0 244.1,463.0 243.8,466.0 245.0,468.0 248.0,468.8 257.0,468.1 274.0,465.5 278.0,464.3 279.0,463.4 279.1,461.0 277.0,457.9 269.0,449.2 262.0,442.7 256.0,439.3 253.0,439.6Z"/>
<path fill="#ffa600" stroke="#ffa600" stroke-width="0.6" fill-rule="evenodd" d="M232.0,241.9 235.0,241.9 241.0,244.5 242.6,246.0 255.8,266.0 280.0,296.3 286.0,305.8 289.9,315.0 290.8,324.0 290.0,328.4 286.0,338.7 279.5,348.0 277.1,353.0 275.6,358.0 275.0,364.0 272.5,375.0 272.2,384.0 264.3,402.0 262.0,404.1 260.5,404.0 255.0,401.6 246.0,401.2 240.0,401.9 234.0,404.5 232.0,404.8 205.0,397.8 175.3,386.0 169.0,377.1 164.7,370.0 163.7,367.0 164.4,361.0 168.0,352.0 170.8,348.0 174.8,344.0 178.9,337.0 186.7,326.0 188.4,323.0 189.5,319.0 189.6,316.0 188.6,312.0 182.0,302.5 180.2,297.0 179.1,275.0 179.4,270.0 180.0,268.0 185.1,264.0 205.8,252.0 220.3,246.0ZM252.0,276.2 247.0,273.3 241.0,271.6 235.0,271.4 229.0,272.7 222.0,275.2 215.4,279.0 210.0,283.5 205.0,289.5 198.8,299.0 198.7,301.0 200.0,308.0 200.0,315.0 199.0,322.0 197.1,327.0 194.4,331.0 191.5,334.0 182.0,341.8 176.8,347.0 173.0,349.2 171.2,351.0 169.3,354.0 166.5,361.0 165.7,366.0 166.7,369.0 172.0,375.0 177.0,379.5 181.0,381.5 187.0,382.6 208.0,383.2 223.0,382.9 226.0,383.4 228.5,385.0 230.0,385.3 231.0,384.5 232.3,381.0 234.1,379.0 251.0,365.9 260.0,357.9 267.0,350.3 273.0,342.6 278.6,334.0 281.9,325.0 282.6,316.0 281.0,308.0 278.0,302.2 270.0,292.8 262.0,284.5ZM251.3,441.0 253.0,439.6 256.0,439.3 262.0,442.7 269.0,449.2 277.0,457.9 279.1,461.0 279.0,463.4 278.0,464.3 274.0,465.5 257.0,468.1 248.0,468.8 245.0,468.0 243.8,466.0 244.1,463.0 249.5,445.0ZM257.0,456.6 255.7,458.0 255.9,460.0 257.0,461.0 259.0,460.9 260.1,460.0 260.3,458.0 259.0,456.6Z"/>
<path fill="#ff8d00" stroke="#ff8d00" stroke-width="0.6" fill-rule="evenodd" d="M252.0,276.2 262.0,284.5 270.0,292.8 278.0,302.2 281.0,308.0 282.6,316.0 281.9,325.0 278.6,334.0 273.0,342.6 267.0,350.3 260.0,357.9 251.0,365.9 234.1,379.0 232.3,381.0 231.0,384.5 230.0,385.3 228.5,385.0 226.0,383.4 223.0,382.9 208.0,383.2 187.0,382.6 181.0,381.5 177.0,379.5 172.0,375.0 166.7,369.0 165.7,366.0 166.5,361.0 169.3,354.0 171.2,351.0 173.0,349.2 176.8,347.0 182.0,341.8 191.5,334.0 194.4,331.0 197.1,327.0 199.0,322.0 200.0,315.0 200.0,308.0 198.7,301.0 198.8,299.0 205.0,289.5 210.0,283.5 215.4,279.0 222.0,275.2 229.0,272.7 235.0,271.4 241.0,271.6 247.0,273.3ZM275.8,306.0 264.0,293.6 259.0,289.3 247.0,282.2 244.0,281.5 241.0,282.4 222.0,296.0 218.3,300.0 210.9,315.0 210.6,318.0 212.4,323.0 212.4,326.0 206.0,338.5 203.2,340.0 187.0,344.4 174.0,351.3 171.0,355.0 168.3,362.0 167.7,365.0 168.6,368.0 174.0,372.6 180.0,376.0 183.0,376.6 188.0,375.6 205.0,370.6 209.0,368.4 224.3,355.0 232.0,343.9 235.0,344.0 244.0,346.7 247.0,346.8 256.0,344.4 263.0,341.6 266.0,339.0 274.6,327.0 275.5,325.0 276.9,313.0 276.6,308.0ZM255.7,458.0 257.0,456.6 258.0,456.3 259.6,457.0 260.5,459.0 259.0,460.9 257.1,461.0 255.9,460.0Z"/>
<path fill="#ff7400" stroke="#ff7400" stroke-width="0.6" fill-rule="evenodd" d="M275.8,306.0 276.6,308.0 276.9,313.0 275.5,325.0 274.6,327.0 266.0,339.0 263.0,341.6 256.0,344.4 247.0,346.8 244.0,346.7 235.0,344.0 232.0,343.9 224.3,355.0 209.0,368.4 205.0,370.6 188.0,375.6 183.0,376.6 180.0,376.0 174.0,372.6 168.6,368.0 167.7,365.0 168.3,362.0 171.0,355.0 174.0,351.3 187.0,344.4 203.2,340.0 206.0,338.5 212.4,326.0 212.4,323.0 210.6,318.0 210.9,315.0 218.3,300.0 222.0,296.0 241.0,282.4 244.0,281.5 247.0,282.2 259.0,289.3 264.0,293.6ZM274.1,307.0 272.0,304.3 263.0,295.2 258.0,290.9 246.0,284.0 244.0,283.7 241.0,284.8 223.0,297.8 220.2,301.0 213.2,315.0 212.9,318.0 214.7,323.0 214.7,326.0 208.0,339.5 205.0,341.7 187.0,346.6 175.0,352.9 172.4,356.0 170.2,362.0 169.5,365.0 170.1,367.0 175.0,371.1 182.0,374.5 185.0,374.3 205.0,368.3 211.0,364.3 223.4,353.0 229.0,344.0 231.0,341.9 234.0,341.6 244.0,344.5 247.0,344.7 256.0,342.1 262.0,339.8 265.1,337.0 273.3,325.0 274.9,313.0 274.7,309.0Z"/>
<path fill="#ff5e00" stroke="#ff5e00" stroke-width="0.6" fill-rule="evenodd" d="M274.1,307.0 274.7,309.0 274.9,313.0 273.3,325.0 265.1,337.0 262.0,339.8 256.0,342.1 247.0,344.7 244.0,344.5 234.0,341.6 231.0,341.9 229.0,344.0 223.4,353.0 211.0,364.3 205.0,368.3 185.0,374.3 182.0,374.5 175.0,371.1 170.1,367.0 169.5,365.0 170.2,362.0 172.4,356.0 175.0,352.9 187.0,346.6 205.0,341.7 208.0,339.5 214.7,326.0 214.7,323.0 212.9,318.0 213.2,315.0 220.2,301.0 223.0,297.8 241.0,284.8 244.0,283.7 246.0,284.0 258.0,290.9 263.0,295.2 272.0,304.3ZM272.0,307.3 257.8,293.0 246.0,286.2 244.0,285.9 242.0,286.7 223.6,300.0 222.0,302.0 215.1,316.0 215.1,318.0 217.1,324.0 216.7,327.0 211.5,338.0 209.0,341.9 206.0,343.7 189.0,348.1 176.8,354.0 174.0,357.1 171.9,363.0 171.9,366.0 176.5,370.0 182.0,372.5 186.0,372.0 204.9,366.0 210.3,362.0 222.0,351.3 227.7,342.0 230.0,339.6 233.0,339.4 246.0,342.7 255.9,340.0 261.0,338.0 264.0,335.1 271.0,325.0 272.8,313.0 272.8,310.0Z"/>
<path fill="#ff4700" stroke="#ff4700" stroke-width="0.6" fill-rule="evenodd" d="M272.0,307.3 272.8,310.0 272.8,313.0 271.0,325.0 264.0,335.1 261.0,338.0 255.9,340.0 246.0,342.7 233.0,339.4 230.0,339.6 227.7,342.0 222.0,351.3 210.3,362.0 204.9,366.0 186.0,372.0 182.0,372.5 176.5,370.0 171.9,366.0 171.9,363.0 174.0,357.1 176.8,354.0 189.0,348.1 206.0,343.7 209.0,341.9 211.5,338.0 216.7,327.0 217.1,324.0 215.1,318.0 215.1,316.0 222.0,302.0 223.6,300.0 242.0,286.7 244.0,285.9 246.0,286.2 257.8,293.0ZM253.0,294.1 250.0,293.6 247.2,294.0 241.0,297.0 234.1,303.0 228.7,310.0 225.2,318.0 224.2,325.0 225.2,330.0 226.6,332.0 229.2,334.0 237.0,337.3 242.0,337.4 247.0,336.6 251.5,335.0 255.1,333.0 258.5,330.0 261.4,326.0 263.5,322.0 265.3,317.0 266.0,313.0 265.7,309.0 263.7,305.0 259.8,300.0 256.0,296.0ZM194.0,358.0 189.2,355.0 187.0,354.5 185.0,354.8 182.0,357.0 178.0,361.6 177.0,363.3 177.0,365.2 178.0,367.0 180.0,368.3 184.0,368.1 188.5,367.0 191.2,365.0 194.0,361.1 194.4,359.0Z"/>
<path fill="#ff3100" stroke="#ff3100" stroke-width="0.6" fill-rule="evenodd" d="M253.0,294.1 256.0,296.0 259.8,300.0 263.7,305.0 265.7,309.0 266.0,313.0 265.3,317.0 263.5,322.0 261.4,326.0 258.5,330.0 255.1,333.0 251.5,335.0 247.0,336.6 242.0,337.4 237.0,337.3 229.2,334.0 226.6,332.0 225.2,330.0 224.2,325.0 225.2,318.0 228.7,310.0 234.1,303.0 241.0,297.0 247.2,294.0 250.0,293.6ZM252.0,306.4 250.0,305.7 247.0,306.2 244.0,308.2 241.9,311.0 238.3,318.0 237.4,321.0 237.9,325.0 240.0,327.3 243.0,328.1 246.0,327.6 249.0,325.7 251.1,323.0 254.1,317.0 255.2,313.0 254.5,309.0ZM194.0,358.0 194.4,359.0 194.0,361.1 191.2,365.0 188.5,367.0 184.0,368.1 180.0,368.3 178.0,367.0 177.0,365.2 177.0,363.3 178.0,361.6 182.0,357.0 185.0,354.8 187.0,354.5 189.2,355.0Z"/>
<path fill="#ff1a00" stroke="#ff1a00" stroke-width="0.6" fill-rule="evenodd" d="M252.0,306.4 254.5,309.0 255.2,313.0 254.1,317.0 251.1,323.0 249.0,325.7 246.0,327.6 243.0,328.1 240.0,327.3 237.9,325.0 237.4,321.0 238.3,318.0 241.9,311.0 244.0,308.2 247.0,306.2 250.0,305.7Z"/>
<path fill="none" stroke="#9c9c8c" stroke-opacity="0.7" stroke-width="0.8" d="M376.2,210.0 378.1,215.0 407.0,262.3 411.0,267.1M144.9,515.0 137.0,477.0 119.7,420.0 113.0,391.4 100.0,368.1 92.0,356.9"/>
<path fill="none" stroke="#9c9c8c" stroke-opacity="0.7" stroke-width="0.8" d="M346.2,210.0 347.3,213.0 353.4,224.0 381.6,271.0 400.0,298.7 406.0,306.6 411.0,311.5M173.2,515.0 172.3,508.0 167.1,483.0 161.6,466.0 151.6,438.0 144.9,422.0 132.0,400.5 129.0,393.6 124.0,379.7 120.6,363.0 120.4,359.0 121.2,349.0 123.7,329.0 120.0,291.0 118.9,276.0 118.6,261.0 117.9,255.0 117.6,235.0 118.5,227.0 118.8,210.0"/>
<path fill="none" stroke="#9c9c8c" stroke-opacity="0.7" stroke-width="0.8" d="M278.6,210.0 280.0,214.7 283.0,221.0 295.0,243.3 302.0,255.4 312.5,271.0 320.5,286.0 323.5,293.0 326.6,303.0 330.7,319.0 336.3,350.0 336.9,361.0 336.0,362.9 335.0,363.3 323.3,364.0 322.9,371.0 323.4,372.0 324.8,373.0 337.0,378.9 339.0,380.9 339.9,383.0 340.5,387.0 341.0,400.4 341.8,405.0 342.1,419.0 343.8,435.0 343.6,444.0 340.4,458.0 334.3,470.0 326.2,484.0 323.0,487.6 309.0,492.4 296.0,495.7 249.0,501.7 240.0,499.6 217.0,490.9 208.3,484.0 200.0,476.2 185.0,449.2 175.0,419.4 145.2,372.0 143.3,368.0 141.8,363.0 141.7,361.0 142.5,358.0 153.7,329.0 152.8,319.0 154.2,299.0 151.9,288.0 151.6,272.0 150.8,265.0 151.1,254.0 152.0,249.6 156.0,242.8 159.0,239.2 175.0,228.7 201.6,218.0 217.0,210.0"/>
<path fill="none" stroke="#9c9c8c" stroke-opacity="0.7" stroke-width="0.8" d="M229.5,231.0 233.0,230.2 238.0,231.2 247.0,234.2 250.9,237.0 266.0,260.3 276.0,273.1 287.1,286.0 295.6,299.0 300.6,310.0 302.1,322.0 301.8,329.0 296.7,344.0 290.0,353.5 287.3,359.0 286.3,368.0 284.0,377.0 284.5,386.0 277.0,403.2 273.0,416.0 275.0,421.4 283.4,437.0 294.7,461.0 295.2,465.0 291.0,470.7 287.0,473.8 245.0,483.1 242.0,482.1 238.0,479.0 229.3,471.0 227.4,468.0 228.4,464.0 234.9,450.0 235.3,442.0 234.8,435.0 227.0,417.0 225.0,415.3 199.0,407.6 168.9,395.0 165.0,390.1 154.0,371.1 153.1,368.0 154.0,362.8 155.0,361.3 157.2,360.0 159.0,357.0 168.0,334.0 177.9,318.0 177.7,316.0 172.7,309.0 169.7,299.0 169.2,273.0 168.6,267.0 169.3,262.0 171.0,260.0 175.4,257.0 199.0,242.9"/>
<path fill="none" stroke="#9c9c8c" stroke-opacity="0.7" stroke-width="0.8" d="M241.9,288.0 245.0,287.0 257.0,293.2 265.3,301.0 271.3,308.0 272.0,313.0 270.7,323.0 269.0,326.6 263.0,334.9 261.0,336.8 258.8,338.0 247.0,341.8 244.0,341.6 232.0,338.5 230.0,338.5 226.8,341.0 220.0,350.5 207.0,363.0 204.1,365.0 193.4,369.0 184.0,371.8 180.0,371.2 175.9,369.0 172.9,366.0 172.5,364.0 174.9,357.0 176.7,355.0 183.9,351.0 188.8,349.0 206.0,345.6 209.0,344.5 210.8,343.0 212.6,340.0 217.7,327.0 218.1,324.0 216.1,317.0 217.0,314.1 222.0,304.0 225.2,300.0"/>
</g>
<rect x="101" y="218" width="301.5" height="289" fill="none" stroke="#111" stroke-width="1.4"/>

<!-- axis ticks -->
<g stroke="#111" stroke-width="1.4">
<!-- y major -->
<path d="M94,225H101M94,261.2H101M94,297.4H101M94,333.6H101M94,369.8H101M94,406H101M94,442.2H101M94,478.4H101"/>
<path d="M97,243.1H101M97,279.3H101M97,315.5H101M97,351.7H101M97,387.9H101M97,424.1H101M97,460.3H101M97,496.5H101"/>
<!-- x major -->
<path d="M102.5,507V514M149.5,507V514M196.5,507V514M243.5,507V514M290.5,507V514M337.5,507V514M384.5,507V514"/>
<path d="M126,507V511M173,507V511M220,507V511M267,507V511M314,507V511M361,507V511"/>
</g>
<g class="tk" text-anchor="end">
<text x="90.6" y="230.5">140</text><text x="90.6" y="266.7">130</text><text x="90.6" y="302.9">120</text><text x="90.6" y="339.1">110</text>
<text x="90.6" y="375.3">100</text><text x="90.6" y="411.5">90</text><text x="90.6" y="447.7">80</text><text x="90.6" y="483.9">70</text>
</g>
<g class="tk" text-anchor="middle">
<text x="102.5" y="530.1">210</text><text x="149.5" y="530.1">212</text><text x="196.5" y="530.1">214</text><text x="243.5" y="530.1">216</text>
<text x="290.5" y="530.1">218</text><text x="337.5" y="530.1">220</text><text x="384.5" y="530.1">222</text>
</g>
<text x="222.3" y="566" font-size="23" textLength="63.8" lengthAdjust="spacingAndGlyphs"><tspan class="it">T</tspan> (<tspan class="it">μ</tspan>s)</text>
<text transform="translate(54,362.3) rotate(-90)" text-anchor="middle" font-size="22"><tspan class="it">α</tspan> (°)</text>

<!-- ================= color bar ================= -->
<rect x="417.6" y="501.80" width="26.4" height="5.70" fill="#1a3a80"/>
<rect x="417.6" y="495.29" width="26.4" height="7.21" fill="#0003f2"/>
<rect x="417.6" y="488.79" width="26.4" height="7.21" fill="#0010f4"/>
<rect x="417.6" y="482.28" width="26.4" height="7.21" fill="#0025f1"/>
<rect x="417.6" y="475.77" width="26.4" height="7.21" fill="#003dee"/>
<rect x="417.6" y="469.27" width="26.4" height="7.21" fill="#0057ec"/>
<rect x="417.6" y="462.76" width="26.4" height="7.21" fill="#0071ea"/>
<rect x="417.6" y="456.26" width="26.4" height="7.21" fill="#008cee"/>
<rect x="417.6" y="449.75" width="26.4" height="7.21" fill="#00a6f0"/>
<rect x="417.6" y="443.24" width="26.4" height="7.21" fill="#00c2f4"/>
<rect x="417.6" y="436.74" width="26.4" height="7.21" fill="#00ddf9"/>
<rect x="417.6" y="430.23" width="26.4" height="7.21" fill="#00f2fa"/>
<rect x="417.6" y="423.73" width="26.4" height="7.21" fill="#00f8eb"/>
<rect x="417.6" y="417.22" width="26.4" height="7.21" fill="#00fad7"/>
<rect x="417.6" y="410.71" width="26.4" height="7.21" fill="#00fabf"/>
<rect x="417.6" y="404.21" width="26.4" height="7.21" fill="#00f8a6"/>
<rect x="417.6" y="397.70" width="26.4" height="7.21" fill="#00f78d"/>
<rect x="417.6" y="391.19" width="26.4" height="7.21" fill="#01f674"/>
<rect x="417.6" y="384.69" width="26.4" height="7.21" fill="#05f55c"/>
<rect x="417.6" y="378.18" width="26.4" height="7.21" fill="#07f544"/>
<rect x="417.6" y="371.68" width="26.4" height="7.21" fill="#0bf52c"/>
<rect x="417.6" y="365.17" width="26.4" height="7.21" fill="#0df414"/>
<rect x="417.6" y="358.66" width="26.4" height="7.21" fill="#14f400"/>
<rect x="417.6" y="352.16" width="26.4" height="7.21" fill="#2df600"/>
<rect x="417.6" y="345.65" width="26.4" height="7.21" fill="#46f800"/>
<rect x="417.6" y="339.14" width="26.4" height="7.21" fill="#60fb00"/>
<rect x="417.6" y="332.64" width="26.4" height="7.21" fill="#79fd00"/>
<rect x="417.6" y="326.13" width="26.4" height="7.21" fill="#92ff00"/>
<rect x="417.6" y="319.62" width="26.4" height="7.21" fill="#a6ff00"/>
<rect x="417.6" y="313.12" width="26.4" height="7.21" fill="#baff00"/>
<rect x="417.6" y="306.61" width="26.4" height="7.21" fill="#ceff00"/>
<rect x="417.6" y="300.11" width="26.4" height="7.21" fill="#e1ff00"/>
<rect x="417.6" y="293.60" width="26.4" height="7.21" fill="#f5ff00"/>
<rect x="417.6" y="287.09" width="26.4" height="7.21" fill="#fff200"/>
<rect x="417.6" y="280.59" width="26.4" height="7.21" fill="#ffd900"/>
<rect x="417.6" y="274.08" width="26.4" height="7.21" fill="#ffc000"/>
<rect x="417.6" y="267.57" width="26.4" height="7.21" fill="#ffa600"/>
<rect x="417.6" y="261.07" width="26.4" height="7.21" fill="#ff8d00"/>
<rect x="417.6" y="254.56" width="26.4" height="7.21" fill="#ff7400"/>
<rect x="417.6" y="248.06" width="26.4" height="7.21" fill="#ff5e00"/>
<rect x="417.6" y="241.55" width="26.4" height="7.21" fill="#ff4700"/>
<rect x="417.6" y="235.04" width="26.4" height="7.21" fill="#ff3100"/>
<rect x="417.6" y="228.54" width="26.4" height="7.21" fill="#ff1a00"/>
<rect x="417.6" y="222.03" width="26.4" height="7.21" fill="#ff0400"/>
<rect x="417.6" y="217.70" width="26.4" height="5.03" fill="#fb0000"/>
<rect x="417.6" y="217.7" width="26.4" height="289.1" fill="none" stroke="#222" stroke-width="0.9"/>
<g stroke="#111" stroke-width="1.3"><path d="M444,224.2h2.6M444,258.9h2.6M444,293.6h2.6M444,328.3h2.6M444,363h2.6M444,397.7h2.6M444,432.4h2.6M444,467.1h2.6M444,501.8h2.6"/></g>
<g class="tk" style="font-size:16.4px">
<text x="452.8" y="229.4">0.67</text><text x="452.8" y="264.1">0.60</text><text x="452.8" y="298.8">0.53</text><text x="452.8" y="333.5">0.46</text>
<text x="452.8" y="368.2">0.39</text><text x="452.8" y="402.9">0.32</text><text x="452.8" y="437.6">0.25</text><text x="452.8" y="472.3">0.18</text><text x="452.8" y="507.0">0.11</text>
</g>
<text transform="translate(514.3,430.5) rotate(-90)" font-size="21.8" textLength="152.5" lengthAdjust="spacingAndGlyphs"><tspan style="font-family:'DejaVu Sans',sans-serif" font-size="21">ℰ</tspan>(MHz<tspan font-size="9.5" dy="-10.5">1/2</tspan><tspan dy="10.5">/Vpp)</tspan></text>

<!-- ================= dotted connectors ================= -->
<path class="dot" d="M26.2,171.5L322.3,289.5"/>
<path class="dot" d="M313.3,172L322.3,289.5"/>
<path class="dot" d="M190.5,368.5L152,607"/>
<path class="dot" d="M195.8,367.7L469.5,607"/>

<!-- markers -->
<path class="tri" d="M315.8,290.8L332.2,290.8L323.8,300.9Z" style="fill:rgba(255,255,0,0.45)"/>
<path class="tri" d="M310.8,322.1L310.8,335.5L323.2,331.1Z" style="fill:rgba(255,255,0,0.5)"/>
<path class="tri" d="M288.2,346.2L287.2,363.7L280.8,354.7Z" style="fill:rgba(255,210,0,0.5)"/>
<path class="tri" d="M244.4,330.6L254.8,342.7L242.7,343.4Z" style="fill:rgba(255,140,150,0.9)"/>
<path class="tri" d="M221.2,351.5L223.5,366.5L211.9,360.3Z" style="fill:rgba(240,60,60,0.85)"/>
<path class="tri" d="M188.8,355L199.2,363.8L186.5,366.5Z" style="fill:rgba(232,70,80,0.85)"/>

<!-- ================= top box ================= -->
<rect x="7.5" y="6.5" width="311" height="167" fill="#000" opacity="0.45" filter="url(#sh)"/>
<rect x="6.5" y="3.9" width="310" height="166.6" fill="#fff" stroke="#111" stroke-width="1.9"/>
<rect x="90.5" y="9.5" width="179" height="49.5" fill="#1a9bf4"/>
<text x="179.2" y="42.6" text-anchor="middle" font-size="21.6" word-spacing="3" style="fill:#fff">Initial guess</text>
<rect x="84.0" y="83.5" width="18.9" height="35.0" fill="#1c2a60" opacity="0.45" filter="url(#sh2)"/>
<rect x="116.0" y="83.5" width="18.9" height="35.0" fill="#1c2a60" opacity="0.45" filter="url(#sh2)"/>
<rect x="148.5" y="83.5" width="18.9" height="35.0" fill="#1c2a60" opacity="0.45" filter="url(#sh2)"/>
<rect x="180.5" y="83.5" width="18.9" height="35.0" fill="#1c2a60" opacity="0.45" filter="url(#sh2)"/>
<rect x="212.5" y="83.5" width="18.9" height="35.0" fill="#1c2a60" opacity="0.45" filter="url(#sh2)"/>
<rect x="243.5" y="83.5" width="18.9" height="35.0" fill="#1c2a60" opacity="0.45" filter="url(#sh2)"/>
<rect x="82.5" y="75.5" width="18.9" height="37.0" fill="url(#bar)"/>
<rect x="114.5" y="75.5" width="18.9" height="37.0" fill="url(#bar)"/>
<rect x="147.0" y="75.5" width="18.9" height="37.0" fill="url(#bar)"/>
<rect x="179.0" y="75.5" width="18.9" height="37.0" fill="url(#bar)"/>
<rect x="211.0" y="75.5" width="18.9" height="37.0" fill="url(#bar)"/>
<rect x="242.0" y="75.5" width="18.9" height="37.0" fill="url(#bar)"/>
<g style="fill:#1418c8"><circle cx="114.6" cy="70.2" r="1.9"/><circle cx="121" cy="70.2" r="1.9"/><circle cx="127.4" cy="70.2" r="1.9"/>
<circle cx="184.6" cy="70.2" r="1.9"/><circle cx="191" cy="70.2" r="1.9"/><circle cx="197.4" cy="70.2" r="1.9"/></g>
<text class="ser it" x="156.7" y="71.8" text-anchor="middle" font-size="19" font-weight="bold" style="fill:#1418c8;stroke:#1418c8;stroke-width:0.7">π</text>
<path class="vd" d="M92,114V128M124,114V128M156.5,114V128M188.8,114V128M220.5,114V128M251.5,114V128"/>
<path class="wv" d="M80,128.5H91.5V144.4H123.5V128.5H155.5V144.4H188.8V128.5H220V144.4H251.5V128.5H283"/>
<path class="ax" d="M79,113.6H288M79,135.9H288"/>
<path d="M296,113.6L285,108.4V118.8ZM296,135.9L285,130.7V141.1Z" fill="#000"/>
<text x="279" y="162" font-size="19" class="it">t</text>
<g class="ser">
<text class="it" x="23" y="142.5" font-size="21.5">y</text>
<text x="34.4" y="134.3" font-size="12.5">0</text>
<text class="it" x="33.3" y="148.4" font-size="15.5">n</text>
<text x="44.6" y="143.6" font-size="20">(</text>
<text class="it" x="52.4" y="142.5" font-size="21.5">t</text>
<text x="61.6" y="143.6" font-size="20">)</text>
</g>

<!-- ================= bottom box ================= -->
<rect x="149" y="610" width="341.5" height="173" fill="#000" opacity="0.45" filter="url(#sh)"/>
<rect x="147.8" y="607.5" width="340.6" height="172.1" fill="#fff" stroke="#111" stroke-width="1.7"/>
<rect x="271.7" y="614.2" width="133" height="47.1" fill="#9a1654"/>
<text x="339" y="645.9" text-anchor="middle" font-size="22" style="fill:#fff">Optimal</text>
<rect x="244.0" y="690.8" width="18.9" height="36.8" fill="#1c2a60" opacity="0.45" filter="url(#sh2)"/>
<rect x="276.7" y="690.8" width="18.9" height="36.8" fill="#1c2a60" opacity="0.45" filter="url(#sh2)"/>
<rect x="327.1" y="690.8" width="18.9" height="36.8" fill="#1c2a60" opacity="0.45" filter="url(#sh2)"/>
<rect x="356.7" y="690.8" width="18.9" height="36.8" fill="#1c2a60" opacity="0.45" filter="url(#sh2)"/>
<rect x="410.8" y="690.8" width="18.9" height="36.8" fill="#1c2a60" opacity="0.45" filter="url(#sh2)"/>
<rect x="242.5" y="682.8" width="18.9" height="38.8" fill="url(#bar)"/>
<rect x="275.2" y="682.8" width="18.9" height="38.8" fill="url(#bar)"/>
<rect x="325.6" y="682.8" width="18.9" height="38.8" fill="url(#bar)"/>
<rect x="355.2" y="682.8" width="18.9" height="38.8" fill="url(#bar)"/>
<rect x="409.3" y="682.8" width="18.9" height="38.8" fill="url(#bar)"/>
<g style="fill:#1418c8"><circle cx="294.6" cy="677.3" r="1.9"/><circle cx="300.6" cy="677.3" r="1.9"/><circle cx="306.6" cy="677.3" r="1.9"/>
<circle cx="364.4" cy="677.3" r="1.9"/><circle cx="370.4" cy="677.3" r="1.9"/><circle cx="376.4" cy="677.3" r="1.9"/></g>
<text class="ser it" x="335" y="678.6" text-anchor="middle" font-size="19" font-weight="bold" style="fill:#1418c8;stroke:#1418c8;stroke-width:0.7">π</text>
<path class="vd" d="M244.8,723V735.5M278.1,723V735.5M331.5,723V735.5M363,723V735.5M415.6,723V735.5"/>
<path class="wv" d="M233.4,735.5H244.8V752H278.1V735.5H331.5V752H363V735.5H415.6V752H438.8"/>
<path class="ax" d="M233.4,722.3H465M228.5,743.7H458"/>
<path d="M473.5,722.3L462.3,717.3V727.3ZM466,743.7L455,738.7V748.7Z" fill="#000"/>
<text x="448.3" y="769.2" font-size="19" class="it">t</text>
<g class="ser">
<text class="it" x="155" y="749.4" font-size="21.5">y</text>
<text x="166" y="740.2" font-size="12.5" textLength="26" lengthAdjust="spacingAndGlyphs">opt</text>
<text class="it" x="165.8" y="754.4" font-size="15.5">n</text>
<text x="194.8" y="750.5" font-size="20">(</text>
<text class="it" x="203.4" y="749.4" font-size="21.5">t</text>
<text x="212.5" y="750.5" font-size="20">)</text>
</g>
</svg>
</body></html>
